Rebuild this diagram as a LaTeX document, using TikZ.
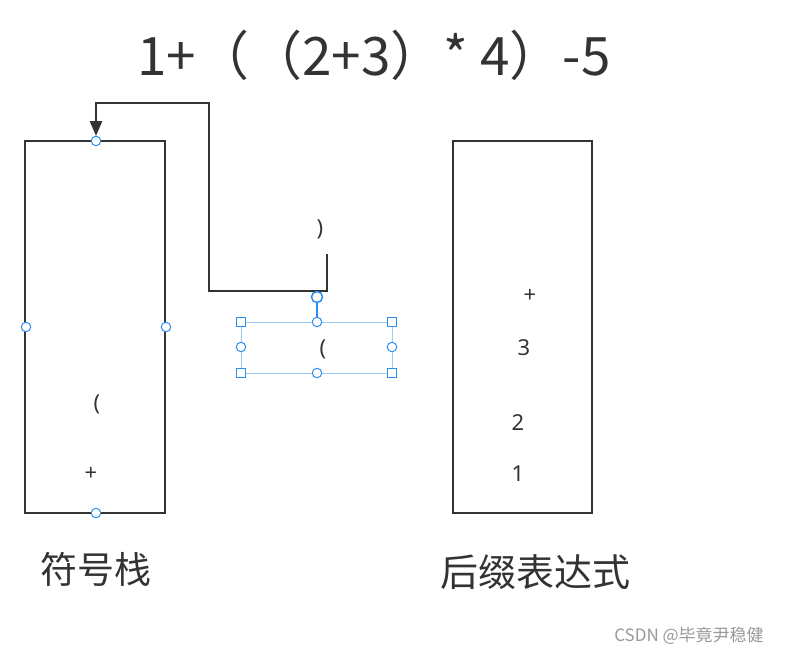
\documentclass[tikz,border=0pt]{standalone}
\usepackage{fontspec}
\setmainfont{Noto Sans}
\newfontfamily\cjk{Noto Sans CJK SC}
\usetikzlibrary{arrows.meta}
\definecolor{ink}{HTML}{333333}
\definecolor{handle}{HTML}{2B8FF0}
\definecolor{selline}{HTML}{9CCBF5}
\tikzset{
  stackbox/.style={draw=ink, line width=2.8pt},
  conn/.style={draw=ink, line width=2.6pt},
  dot/.style={circle, draw=handle, fill=white, line width=1pt, minimum size=9.5pt, inner sep=0pt},
  sq/.style={rectangle, draw=handle, fill=white, line width=1pt, minimum size=9pt, inner sep=0pt},
  small/.style={text=ink, font=\fontsize{22}{22}\selectfont, inner sep=0pt},
  big/.style={text=ink, font=\cjk\fontsize{37}{37}\selectfont, inner sep=0pt},
}
\begin{document}
\begin{tikzpicture}[x=1pt,y=-1pt]
\useasboundingbox (0,0) rectangle (787,657);
\fill[white] (0,0) rectangle (787,657);
% title
\node[text=ink, font=\cjk\fontsize{53}{53}\selectfont, inner sep=0pt] (title) at (374,55) {1+（（2+3）* 4）-5};
% left stack
\draw[stackbox] (25,141) rectangle (165,513);
\coordinate (ltop) at (96,136);
\node[small] (lp) at (97,404) {(};
\node[small] (lplus) at (91,474) {+};
% right box
\draw[stackbox] (453,141) rectangle (592,513);
\node[small] (rplus) at (530,296) {+};
\node[small] (r3) at (524,348) {3};
\node[small] (r2) at (518,423) {2};
\node[small] (r1) at (518,474) {1};
% close paren
\node[small] (cp) at (320,229) {)};
\coordinate (cstart) at (327,254);
\draw[conn, -{Triangle[length=15pt,width=12pt]}] (cstart) -- (327,291) -- (209,291) -- (209,103) -- (96,103) -- (ltop);
% selection box
\draw[selline, line width=1pt] (241,322) rectangle (392,373);
\node[small] (sp) at (323,349) {(};
\draw[handle, line width=1.3pt] (317,322) -- (317,299);
\node[dot, minimum size=11pt, line width=1.5pt] (rot) at (317,297) {};
\foreach \p in {(241,322),(392,322),(241,373),(392,373)} \node[sq] at \p {};
\foreach \p in {(317,322),(241,347),(392,347),(317,373)} \node[dot] at \p {};
% left box handles
\foreach \p in {(96,141),(26,327),(166,327),(96,513)} \node[dot] at \p {};
% labels
\node[big] (l1) at (96,569) {符号栈};
\node[big, font=\cjk\fontsize{38}{38}\selectfont] (l2) at (535,572) {后缀表达式};
\node[text=gray!80, font=\cjk\fontsize{17}{17}\selectfont, inner sep=0pt] (wm) at (689,636) {CSDN @毕竟尹稳健};
\end{tikzpicture}
\end{document}
